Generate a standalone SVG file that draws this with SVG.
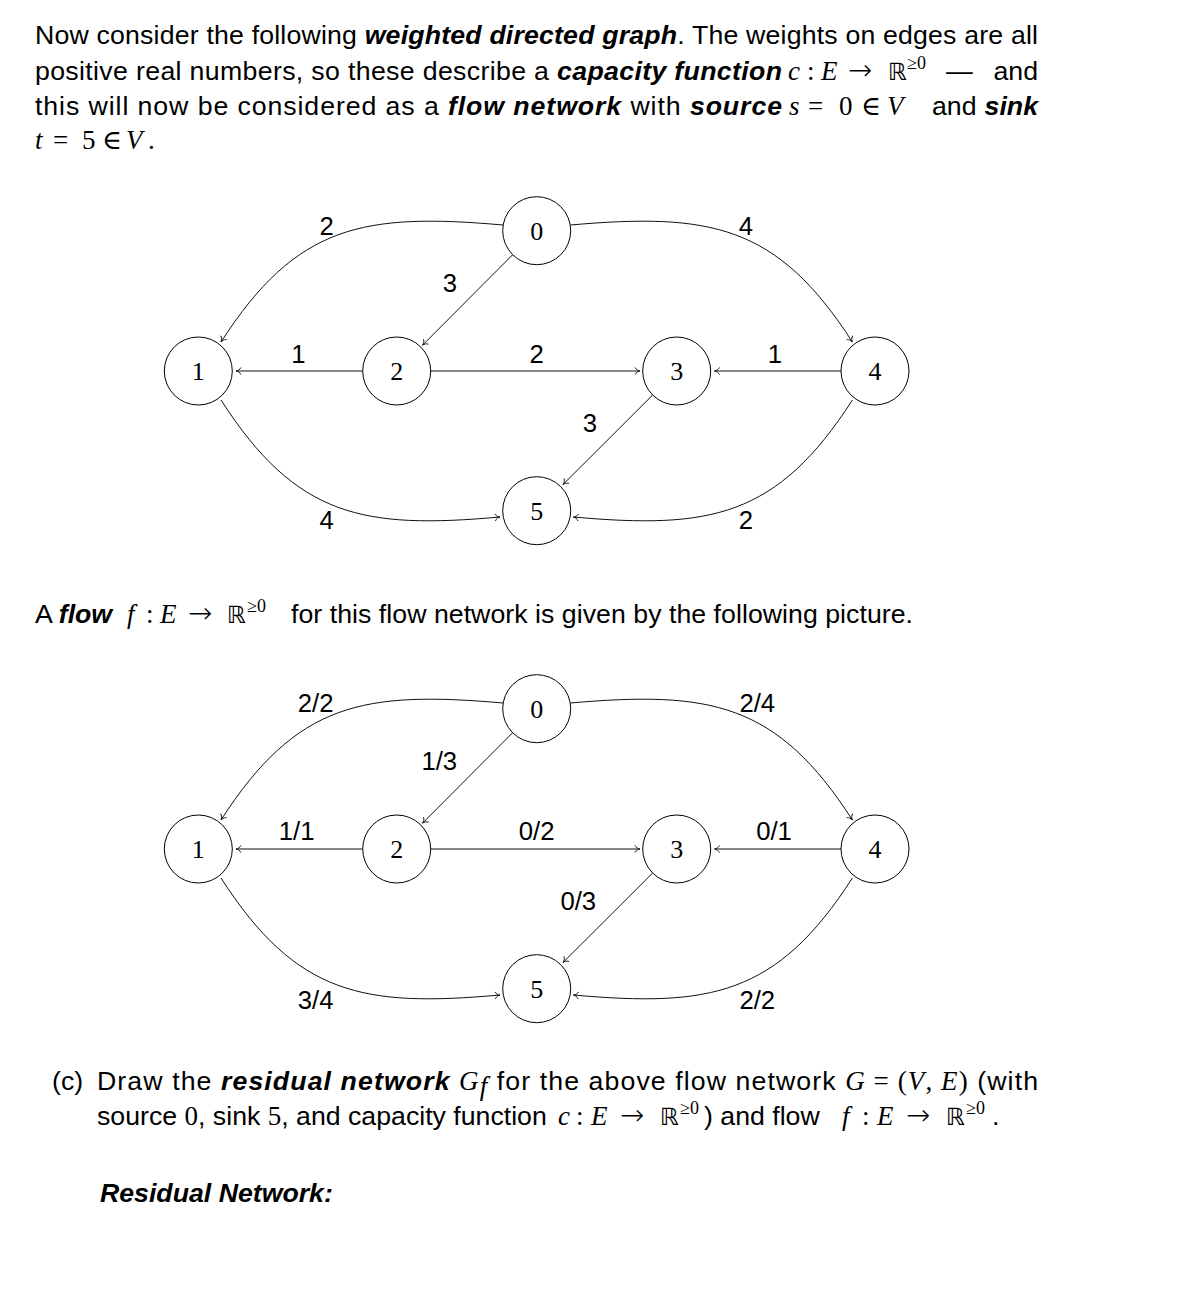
<svg xmlns="http://www.w3.org/2000/svg" width="1190" height="1300" viewBox="0 0 1190 1300">
<style>
.t{font-family:"Liberation Sans",Arial,sans-serif;font-size:26.7px;fill:#000}
.bi{font-weight:bold;font-style:italic}
.m{font-family:"Liberation Serif","DejaVu Serif",serif;font-size:27px;font-style:normal;font-weight:normal}
.mi{font-style:italic}
.ar{font-family:"DejaVu Sans",sans-serif;font-size:29px;font-style:normal;font-weight:200}
.bb{font-family:"DejaVu Sans",sans-serif;font-size:24px;font-style:normal;font-weight:normal}
.sup{font-family:"Liberation Serif","DejaVu Serif",serif;font-size:18px;font-style:normal;font-weight:normal}
.lbl{font-family:"Liberation Sans",Arial,sans-serif;font-size:25.7px;text-anchor:middle;fill:#000}
.nl{font-family:"Liberation Serif","DejaVu Serif",serif;font-size:26px;text-anchor:middle;fill:#000}
.node circle{fill:#fff;stroke:#000;stroke-width:1}
.edge{fill:none;stroke:#111;stroke-width:1;marker-end:url(#arr)}
</style>
<defs>
<marker id="arr" viewBox="-6 -5 7 10" refX="0" refY="0" markerWidth="7" markerHeight="10" markerUnits="userSpaceOnUse" orient="auto">
<path d="M-5,-3.6 C-4,-1.3 -1.6,-0.3 0,0 C-1.6,0.3 -4,1.3 -5,3.6" fill="none" stroke="#111" stroke-width="0.9"/>
</marker>
</defs>
<rect width="1190" height="1300" fill="#fff"/>

<!-- paragraph 1 -->
<text class="t" x="35" y="44" textLength="1003" lengthAdjust="spacing">Now consider the following <tspan class="bi">weighted directed graph</tspan>. The weights on edges are all</text>
<text class="t" x="35" y="80" textLength="747" lengthAdjust="spacing">positive real numbers, so these describe a <tspan class="bi">capacity function</tspan></text>
<text class="m mi" x="788" y="80">c</text>
<text class="m" x="807" y="80">:</text>
<text class="m mi" x="821" y="80">E</text>
<text class="ar" x="848" y="80">→</text>
<text class="bb" x="888" y="80">ℝ</text>
<text class="sup" x="907" y="69">≥0</text>
<text class="t" x="946" y="80">—</text>
<text class="t" x="1038" y="80" text-anchor="end">and</text>
<text class="t" x="35" y="115" textLength="747" lengthAdjust="spacing">this will now be considered as a <tspan class="bi">flow network</tspan> with <tspan class="bi">source</tspan></text>
<text class="m mi" x="789" y="115">s</text>
<text class="m" x="808" y="115">=</text>
<text class="m" x="839" y="115">0</text>
<text class="m" x="861" y="115">∈</text>
<text class="m mi" x="887" y="115">V</text>
<text class="t" x="932" y="115">and</text>
<text class="t bi" x="1038" y="115" text-anchor="end">sink</text>
<text class="m mi" x="35" y="149">t</text>
<text class="m" x="53" y="149">=</text>
<text class="m" x="82" y="149">5</text>
<text class="m" x="102" y="149">∈</text>
<text class="m mi" x="126" y="149">V</text>
<text class="m" x="148" y="149">.</text>

<!-- graph 1: capacities -->
<g id="graph1">
<g id="g1-connectors">
<path id="g1-e01" class="edge" d="M503,225 C363.6,212.8 296.6,224.4 221,342"/>
<path id="g1-e04" class="edge" d="M570.4,225 C709.8,212.8 776.8,224.4 852.4,342"/>
<path id="g1-e02" class="edge" d="M512.7,254.7 L422.5,345.2"/>
<path id="g1-e21" class="edge" d="M362.7,371 L236,371"/>
<path id="g1-e23" class="edge" d="M430.7,371 L640,371"/>
<path id="g1-e43" class="edge" d="M841,371 L714.5,371"/>
<path id="g1-e35" class="edge" d="M652.7,395 L563,484.5"/>
<path id="g1-e15" class="edge" d="M221,400 C296.6,517.6 363.6,529.2 500,517"/>
<path id="g1-e45" class="edge" d="M852.4,400 C776.8,517.6 709.8,529.2 573.4,517"/>
<text class="lbl" x="326.7" y="234.5">2</text>
<text class="lbl" x="746" y="234.5">4</text>
<text class="lbl" x="450" y="292">3</text>
<text class="lbl" x="298.3" y="362.5">1</text>
<text class="lbl" x="536.7" y="362.5">2</text>
<text class="lbl" x="775" y="362.5">1</text>
<text class="lbl" x="590" y="431.5">3</text>
<text class="lbl" x="326.7" y="529.2">4</text>
<text class="lbl" x="746" y="529.2">2</text>
</g>
<g id="g1-n0" class="node"><circle cx="536.7" cy="230.7" r="34"/><text class="nl" x="536.7" y="239.7">0</text></g>
<g id="g1-n1" class="node"><circle cx="198.3" cy="371" r="34"/><text class="nl" x="198.3" y="380">1</text></g>
<g id="g1-n2" class="node"><circle cx="396.7" cy="371" r="34"/><text class="nl" x="396.7" y="380">2</text></g>
<g id="g1-n3" class="node"><circle cx="676.7" cy="371" r="34"/><text class="nl" x="676.7" y="380">3</text></g>
<g id="g1-n4" class="node"><circle cx="875" cy="371" r="34"/><text class="nl" x="875" y="380">4</text></g>
<g id="g1-n5" class="node"><circle cx="536.7" cy="510.7" r="34"/><text class="nl" x="536.7" y="519.7">5</text></g>
</g>

<!-- sentence 2 -->
<text class="t" x="35" y="623">A <tspan class="bi">flow</tspan></text>
<text class="m mi" x="127" y="623">f</text>
<text class="m" x="146" y="623">:</text>
<text class="m mi" x="160" y="623">E</text>
<text class="ar" x="188" y="623">→</text>
<text class="bb" x="227" y="623">ℝ</text>
<text class="sup" x="247" y="612">≥0</text>
<text class="t" x="291" y="623" textLength="622" lengthAdjust="spacing">for this flow network is given by the following picture.</text>

<!-- graph 2: flows -->
<g id="graph2" transform="translate(0,478)">
<g id="g2-connectors">
<path id="g2-e01" class="edge" d="M503,225 C363.6,212.8 296.6,224.4 221,342"/>
<path id="g2-e04" class="edge" d="M570.4,225 C709.8,212.8 776.8,224.4 852.4,342"/>
<path id="g2-e02" class="edge" d="M512.7,254.7 L422.5,345.2"/>
<path id="g2-e21" class="edge" d="M362.7,371 L236,371"/>
<path id="g2-e23" class="edge" d="M430.7,371 L640,371"/>
<path id="g2-e43" class="edge" d="M841,371 L714.5,371"/>
<path id="g2-e35" class="edge" d="M652.7,395 L563,484.5"/>
<path id="g2-e15" class="edge" d="M221,400 C296.6,517.6 363.6,529.2 500,517"/>
<path id="g2-e45" class="edge" d="M852.4,400 C776.8,517.6 709.8,529.2 573.4,517"/>
<text class="lbl" x="315.7" y="234">2/2</text>
<text class="lbl" x="757.3" y="234">2/4</text>
<text class="lbl" x="439.3" y="292">1/3</text>
<text class="lbl" x="296.7" y="362">1/1</text>
<text class="lbl" x="536.7" y="362">0/2</text>
<text class="lbl" x="774" y="362">0/1</text>
<text class="lbl" x="578.3" y="432">0/3</text>
<text class="lbl" x="315.7" y="530.5">3/4</text>
<text class="lbl" x="757.3" y="530.5">2/2</text>
</g>
<g id="g2-n0" class="node"><circle cx="536.7" cy="230.7" r="34"/><text class="nl" x="536.7" y="239.7">0</text></g>
<g id="g2-n1" class="node"><circle cx="198.3" cy="371" r="34"/><text class="nl" x="198.3" y="380">1</text></g>
<g id="g2-n2" class="node"><circle cx="396.7" cy="371" r="34"/><text class="nl" x="396.7" y="380">2</text></g>
<g id="g2-n3" class="node"><circle cx="676.7" cy="371" r="34"/><text class="nl" x="676.7" y="380">3</text></g>
<g id="g2-n4" class="node"><circle cx="875" cy="371" r="34"/><text class="nl" x="875" y="380">4</text></g>
<g id="g2-n5" class="node"><circle cx="536.7" cy="510.7" r="34"/><text class="nl" x="536.7" y="519.7">5</text></g>
</g>

<!-- part (c) -->
<text class="t" x="52" y="1090">(c)</text>
<text class="t" x="97" y="1090" textLength="941" lengthAdjust="spacing">Draw the <tspan class="bi">residual network</tspan> <tspan class="m mi">G</tspan><tspan class="m mi" font-size="17" dy="5">f</tspan><tspan dy="-5">  for the above flow network </tspan><tspan class="m mi">G</tspan><tspan class="m">  =  (</tspan><tspan class="m mi">V</tspan><tspan class="m">, </tspan><tspan class="m mi">E</tspan><tspan class="m">)</tspan> (with</text>
<text class="t" x="97" y="1125">source <tspan class="m">0</tspan>, sink <tspan class="m">5</tspan>, and capacity function</text>
<text class="m mi" x="558" y="1125">c</text>
<text class="m" x="576" y="1125">:</text>
<text class="m mi" x="591" y="1125">E</text>
<text class="ar" x="620" y="1125">→</text>
<text class="bb" x="660" y="1125">ℝ</text>
<text class="sup" x="680" y="1114">≥0</text>
<text class="t" x="704" y="1125">) and flow</text>
<text class="m mi" x="842" y="1125">f</text>
<text class="m" x="862" y="1125">:</text>
<text class="m mi" x="877" y="1125">E</text>
<text class="ar" x="906" y="1125">→</text>
<text class="bb" x="946" y="1125">ℝ</text>
<text class="sup" x="966" y="1114">≥0</text>
<text class="t" x="992" y="1125">.</text>
<text class="t bi" x="100" y="1202">Residual Network:</text>
</svg>
